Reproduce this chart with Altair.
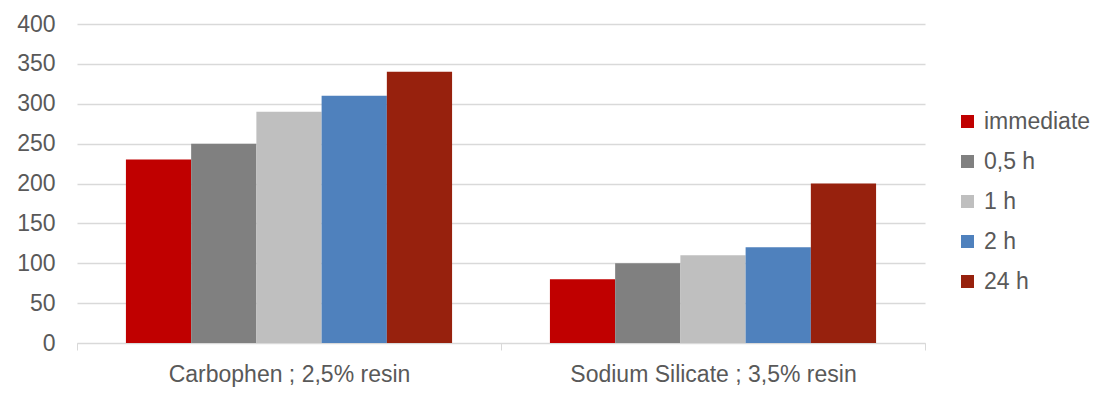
import altair as alt
import pandas as pd

categories = ["Carbophen ; 2,5% resin", "Sodium Silicate ; 3,5% resin"]
series = ["immediate", "0,5 h", "1 h", "2 h", "24 h"]
values = {
    "immediate": [230, 80],
    "0,5 h": [250, 100],
    "1 h": [290, 110],
    "2 h": [310, 120],
    "24 h": [340, 200],
}
colors = ["#C00000", "#808080", "#BFBFBF", "#4F81BD", "#97210D"]

rows = []
for s in series:
    for c, v in zip(categories, values[s]):
        rows.append({"category": c, "series": s, "value": v})
df = pd.DataFrame(rows)

FONT = "Liberation Sans"
TXT = "#595959"
FS = 23

chart = alt.Chart(df).mark_bar().encode(
    x=alt.X("category:N", sort=categories, title=None,
            scale=alt.Scale(paddingInner=0, paddingOuter=0),
            axis=alt.Axis(labelAngle=0, tickBand="extent", tickSize=7,
                          tickColor="#D9D9D9", domainColor="#D9D9D9",
                          labelColor=TXT, labelFont=FONT, labelFontSize=FS,
                          labelPadding=13, grid=False, labelLimit=0)),
    xOffset=alt.XOffset("series:N", sort=series,
                        scale=alt.Scale(paddingInner=0, paddingOuter=0.75)),
    y=alt.Y("value:Q", title=None,
            scale=alt.Scale(domain=[0, 400]),
            axis=alt.Axis(values=list(range(0, 401, 50)), domain=False, ticks=False,
                          tickSize=0, labelPadding=22, labelColor=TXT, labelFont=FONT,
                          labelFontSize=FS, gridColor="#D9D9D9", gridWidth=1.3)),
    color=alt.Color("series:N", sort=series,
                    scale=alt.Scale(domain=series, range=colors),
                    legend=alt.Legend(title=None, orient="none", legendX=879, legendY=86,
                                      symbolType="square", symbolSize=169,
                                      symbolStrokeWidth=0, labelFont=FONT,
                                      labelFontSize=FS, labelColor=TXT,
                                      labelOffset=5, rowPadding=16, labelLimit=0)),
).properties(
    width=848, height=319,
    background="white",
    padding={"left": 69, "top": 16, "right": 181, "bottom": 56},
    autosize=alt.AutoSizeParams(type="none"),
).configure_view(stroke=None).configure_axisX(grid=False)

chart.save("out.html", embed_options={"renderer": "svg", "actions": False})
